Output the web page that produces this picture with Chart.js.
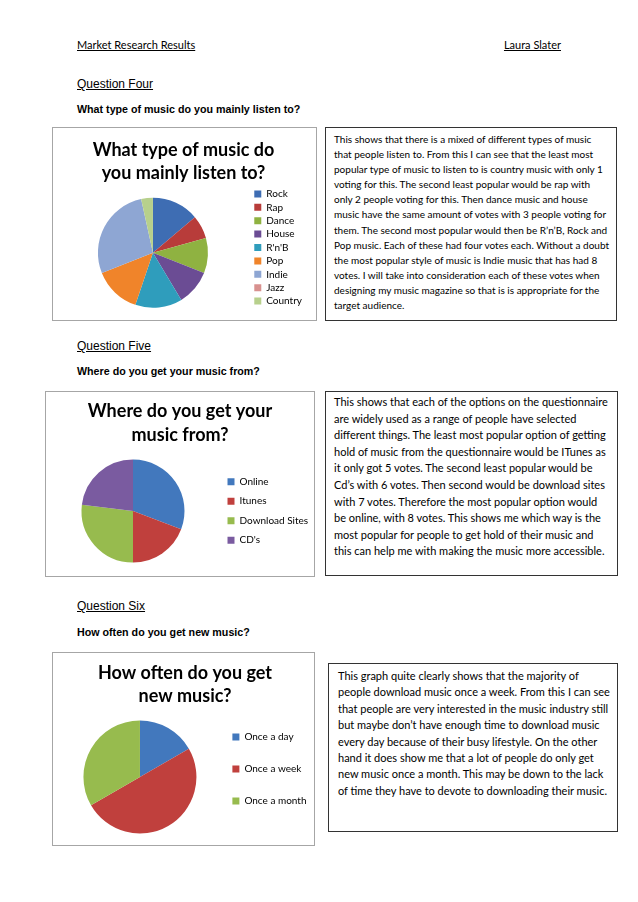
<!DOCTYPE html>
<html>
<head>
<meta charset="utf-8">
<script src="https://cdn.jsdelivr.net/npm/chart.js@4.4.1/dist/chart.umd.min.js"></script>
<style>
  html, body { margin: 0; padding: 0; background: #fff; }
  body { width: 638px; height: 902px; position: relative; overflow: hidden; font-family: Lato, sans-serif; color: #000; }
  .abs { position: absolute; white-space: nowrap; }
  .hdr { font-family: Lato, sans-serif; font-size: 11px; text-decoration: underline; }
  .q { font-family: "Liberation Sans", Arial, sans-serif; font-size: 12px; text-decoration: underline; }
  .qb { font-family: "Liberation Sans", Arial, sans-serif; font-size: 10.7px; font-weight: bold; }
  .chartbox { position: absolute; border: 1px solid #a6a6a6; box-sizing: border-box; background: #fff; }
  .chartbox canvas { display: block; }
  .textbox { position: absolute; border: 1px solid #333; box-sizing: border-box; font-family: Lato, sans-serif; }
  .textbox div { white-space: nowrap; }
</style>
</head>
<body>

<div class="abs hdr" style="left:77px; top:38px;">Market Research Results</div>
<div class="abs hdr" style="right:77px; top:38px;">Laura Slater</div>

<div class="abs q" style="left:77px; top:77px;">Question Four</div>
<div class="abs qb" style="left:77px; top:103px;">What type of music do you mainly listen to?</div>

<div class="chartbox" style="left:52px; top:127px; width:265px; height:194px;">
  <canvas id="chart1" width="263" height="192"></canvas>
</div>
<div class="textbox" style="left:325px; top:127px; width:292px; height:194px; padding:4px 0 0 8px; font-size:10px; line-height:15.1px;">
  <div>This shows that there is a mixed of different types of music</div>
  <div>that people listen to. From this I can see that the least most</div>
  <div>popular type of music to listen to is country music with only 1</div>
  <div>voting for this. The second least popular would be rap with</div>
  <div>only 2 people voting for this. Then dance music and house</div>
  <div>music have the same amount of votes with 3 people voting for</div>
  <div>them. The second most popular would then be R’n’B, Rock and</div>
  <div>Pop music. Each of these had four votes each. Without a doubt</div>
  <div>the most popular style of music is Indie music that has had 8</div>
  <div>votes. I will take into consideration each of these votes when</div>
  <div>designing my music magazine so that is is appropriate for the</div>
  <div>target audience.</div>
</div>

<div class="abs q" style="left:77px; top:339px;">Question Five</div>
<div class="abs qb" style="left:77px; top:365px;">Where do you get your music from?</div>

<div class="chartbox" style="left:45px; top:391px; width:270px; height:186px;">
  <canvas id="chart2" width="268" height="184"></canvas>
</div>
<div class="textbox" style="left:325px; top:391px; width:293px; height:185px; padding:2px 0 0 8px; font-size:11px; line-height:16.6px;">
  <div>This shows that each of the options on the questionnaire</div>
  <div>are widely used as a range of people have selected</div>
  <div>different things. The least most popular option of getting</div>
  <div>hold of music from the questionnaire would be ITunes as</div>
  <div>it only got 5 votes. The second least popular would be</div>
  <div>Cd’s with 6 votes. Then second would be download sites</div>
  <div>with 7 votes. Therefore the most popular option would</div>
  <div>be online, with 8 votes. This shows me which way is the</div>
  <div>most popular for people to get hold of their music and</div>
  <div>this can help me with making the music more accessible.</div>
</div>

<div class="abs q" style="left:77px; top:599px;">Question Six</div>
<div class="abs qb" style="left:77px; top:626px;">How often do you get new music?</div>

<div class="chartbox" style="left:52px; top:652px; width:263px; height:194px;">
  <canvas id="chart3" width="261" height="192"></canvas>
</div>
<div class="textbox" style="left:328px; top:663px; width:290px; height:169px; padding:4px 0 0 9px; font-size:11px; line-height:16.4px;">
  <div>This graph quite clearly shows that the majority of</div>
  <div>people download music once a week. From this I can see</div>
  <div>that people are very interested in the music industry still</div>
  <div>but maybe don’t have enough time to download music</div>
  <div>every day because of their busy lifestyle. On the other</div>
  <div>hand it does show me that a lot of people do only get</div>
  <div>new music once a month. This may be down to the lack</div>
  <div>of time they have to devote to downloading their music.</div>
</div>

<script>
// Question Four
const musicTypes = ['Rock', 'Rap', 'Dance', 'House', "R'n'B", 'Pop', 'Indie', 'Jazz', 'Country'];
const musicVotes = [4, 2, 3, 3, 4, 4, 8, 0, 1];
const musicColors = ['#3e6db3', '#b83c3a', '#8fb241', '#6b4c94', '#2f9dbc', '#f0842a', '#8ea6d3', '#d8918f', '#b7d08c'];

// Question Five
const sources = ['Online', 'Itunes', 'Download Sites', "CD's"];
const sourceVotes = [8, 5, 7, 6];
const sourceColors = ['#4278bd', '#c0403d', '#97bb4e', '#7a5ba0'];

// Question Six
const frequency = ['Once a day', 'Once a week', 'Once a month'];
const frequencyVotes = [3, 9, 6];
const frequencyColors = ['#4278bd', '#c0403d', '#97bb4e'];

Chart.defaults.font.family = 'Lato, sans-serif';
Chart.defaults.color = '#000';

// legend labels as one-line arrays, so the font line height sets the row gap
function tallLabels(chart) {
    return Chart.overrides.pie.plugins.legend.labels.generateLabels(chart)
        .map(item => Object.assign(item, { text: [item.text] }));
}

function makePie(id, labels, values, colors, cfg) {
    const ctx = document.getElementById(id).getContext('2d');
    const labelOpts = {
        boxWidth: 7,
        boxHeight: 7,
        padding: cfg.legendPadding,
        color: '#000',
        font: { size: 10, lineHeight: cfg.legendLine || 1.2 }
    };
    if (cfg.legendLine) labelOpts.generateLabels = tallLabels;

    return new Chart(ctx, {
        type: 'pie',
        data: {
            labels: labels,
            datasets: [{
                data: values,
                backgroundColor: colors,
                borderWidth: 0,
                radius: cfg.radius
            }]
        },
        options: {
            responsive: false,
            animation: false,
            devicePixelRatio: 1,
            layout: { padding: cfg.padding },
            plugins: {
                title: {
                    display: true,
                    text: cfg.title,
                    color: '#000',
                    font: { size: 18, weight: 'bold', lineHeight: cfg.titleLine / 18 },
                    padding: cfg.titlePadding
                },
                legend: {
                    position: 'right',
                    fullSize: false,
                    align: cfg.align,
                    maxWidth: cfg.legendWidth,
                    labels: labelOpts
                },
                tooltip: { enabled: false }
            }
        }
    });
}

makePie('chart1', musicTypes, musicVotes, musicColors, {
    title: ['What type of music do', 'you mainly listen to?'],
    titleLine: 23,
    titlePadding: { top: 10.5, bottom: 1 },
    radius: 55,
    align: 'start',
    legendPadding: 3.4,
    padding: { left: 2, right: 4, top: 0, bottom: 0 }
});

makePie('chart2', sources, sourceVotes, sourceColors, {
    title: ['Where do you get your', 'music from?'],
    titleLine: 24,
    titlePadding: { top: 7, bottom: 13 },
    radius: 51.5,
    align: 'center',
    legendPadding: 9.5,
    legendWidth: 94,
    padding: { left: 2, right: 2, top: 0, bottom: 14 }
});

makePie('chart3', frequency, frequencyVotes, frequencyColors, {
    title: ['How often do you get', 'new music?'],
    titleLine: 23,
    titlePadding: { top: 8.5, bottom: 12.5 },
    radius: 56.5,
    align: 'center',
    legendPadding: 6,
    legendLine: 2.6,
    padding: { left: 0.5, right: -2.5, top: 0, bottom: 11 }
});
</script>
</body>
</html>
